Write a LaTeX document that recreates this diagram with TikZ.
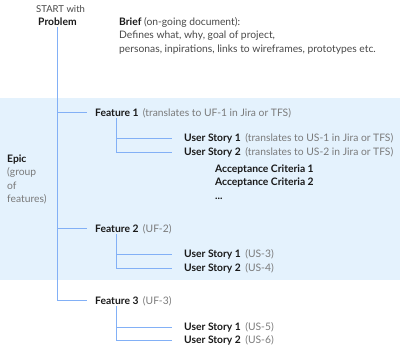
\documentclass[tikz,border=0pt]{standalone}
\usepackage{fontspec}
\setmainfont{Lato}
\definecolor{bandblue}{HTML}{E4F2FD}
\definecolor{linkblue}{HTML}{82B0F6}
\definecolor{notegray}{HTML}{7A7A7A}
\definecolor{textgray}{HTML}{484848}
\begin{document}
\begin{tikzpicture}[x = 1pt, y = -1pt,
  every node/.style = {anchor = base west, inner sep = 1pt, font = \fontsize{10.3}{13.3}\selectfont},
  head/.style = {font = \fontsize{10.3}{13.3}\selectfont\bfseries, text = black!90},
  note/.style = {text = notegray, xshift = 2pt},
  link/.style = {draw = linkblue, line width = 0.8pt, shorten > = 7pt},
  sublink/.style = {link, shorten > = 11pt}]
\useasboundingbox (0,0) rectangle (400,346);
\fill[bandblue] (0,98) rectangle (400,280);
\node[textgray, font = \fontsize{9.5}{13.3}\selectfont] at (35,12.5) (start) {START with};
\node[head] at (37,25.5) (prob) {Problem};
\node[textgray, align = left] at (118,52.1) (brief) {\textbf{\color{black!90}Brief} (on-going document):\\Defines what, why, goal of project,\\personas, inpirations, links to wireframes, prototypes etc.};
\node[note, align = left, xshift = -2pt] at (6,202.4) (epic) {\textbf{\color{black!90}Epic}\\(group\\of\\features)};
\node[head] at (94,116.5) (f1) {Feature 1};
\node[note] at (f1.base east) (f1n) {(translates to UF-1 in Jira or TFS)};
\node[head] at (183,141.5) (us11) {User Story 1};
\node[note] at (us11.base east) (us11n) {(translates to US-1 in Jira or TFS)};
\node[head] at (183,155.5) (us12) {User Story 2};
\node[note] at (us12.base east) (us12n) {(translates to US-2 in Jira or TFS)};
\node[head] at (214,172.5) (ac1) {Acceptance Criteria 1};
\node[head] at (214,185.5) (ac2) {Acceptance Criteria 2};
\node[head] at (214,199) (acx) {...};
\node[head] at (94,232.5) (f2) {Feature 2};
\node[note] at (f2.base east) (f2n) {(UF-2)};
\node[head] at (183,257.5) (us21) {User Story 1};
\node[note] at (us21.base east) (us21n) {(US-3)};
\node[head] at (183,271.5) (us22) {User Story 2};
\node[note] at (us22.base east) (us22n) {(US-4)};
\node[head] at (94,304.5) (f3) {Feature 3};
\node[note] at (f3.base east) (f3n) {(UF-3)};
\node[head] at (183,330) (us31) {User Story 1};
\node[note] at (us31.base east) (us31n) {(US-5)};
\node[head] at (183,343.5) (us32) {User Story 2};
\node[note] at (us32.base east) (us32n) {(US-6)};
\draw[link] (prob.south) |- (f3.west);
\draw[link] (prob.south |- f1.west) -- (f1.west);
\draw[link] (prob.south |- f2.west) -- (f2.west);
\draw[sublink] (f1.south) |- (us12.west);
\draw[sublink] (f1.south |- us11.west) -- (us11.west);
\draw[sublink] (f2.south) |- (us22.west);
\draw[sublink] (f2.south |- us21.west) -- (us21.west);
\draw[sublink] (f3.south) |- (us32.west);
\draw[sublink] (f3.south |- us31.west) -- (us31.west);
\end{tikzpicture}
\end{document}
